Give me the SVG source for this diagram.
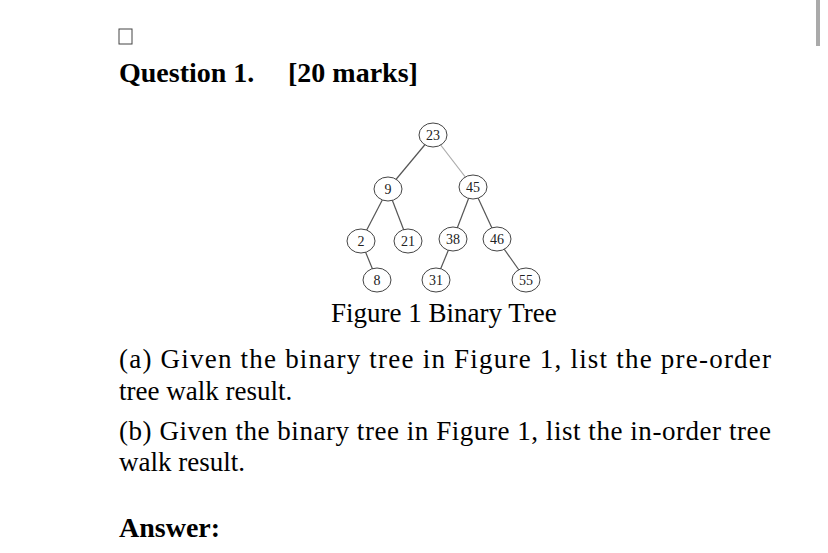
<svg xmlns="http://www.w3.org/2000/svg" width="828" height="553" viewBox="0 0 828 553">
<style>
.n ellipse{fill:#fff;stroke:#444;stroke-width:1}
.n text{font-family:"Liberation Serif",serif;font-size:14px;text-anchor:middle;fill:#222}
#edges line{stroke:#555;stroke-width:1.2}
.t{font-family:"Liberation Serif",serif;font-size:27px;fill:#000}
.b{font-family:"Liberation Serif",serif;font-size:28px;font-weight:bold;fill:#000}
</style>
<rect width="828" height="553" fill="#fff"/>
<rect x="816" y="0" width="4" height="46" fill="#aaa"/>
<rect x="119" y="29" width="13" height="15" fill="none" stroke="#444" stroke-width="1"/>
<text class="b" x="119" y="82">Question 1.</text>
<text class="b" x="288" y="82">[20 marks]</text>
<g id="edges">
<line x1="433" y1="135" x2="388" y2="189"/>
<line x1="433" y1="135" x2="473" y2="187" stroke-opacity="0.5"/>
<line x1="388" y1="189" x2="361" y2="241"/>
<line x1="388" y1="189" x2="408" y2="241"/>
<line x1="473" y1="187" x2="453" y2="239"/>
<line x1="473" y1="187" x2="497" y2="239"/>
<line x1="361" y1="241" x2="377" y2="280"/>
<line x1="453" y1="239" x2="436" y2="280"/>
<line x1="497" y1="239" x2="526" y2="280"/>
</g>
<g id="n23" class="n"><ellipse cx="433" cy="135" rx="14" ry="12"/><text x="433" y="140">23</text></g>
<g id="n9" class="n"><ellipse cx="388" cy="189" rx="14" ry="12"/><text x="388" y="194">9</text></g>
<g id="n45" class="n"><ellipse cx="473" cy="187" rx="14" ry="12"/><text x="473" y="192">45</text></g>
<g id="n2" class="n"><ellipse cx="361" cy="241" rx="14" ry="12"/><text x="361" y="246">2</text></g>
<g id="n21" class="n"><ellipse cx="408" cy="241" rx="14" ry="12"/><text x="408" y="246">21</text></g>
<g id="n38" class="n"><ellipse cx="453" cy="239" rx="14" ry="12"/><text x="453" y="244">38</text></g>
<g id="n46" class="n"><ellipse cx="497" cy="239" rx="14" ry="12"/><text x="497" y="244">46</text></g>
<g id="n8" class="n"><ellipse cx="377" cy="280" rx="14" ry="12"/><text x="377" y="285">8</text></g>
<g id="n31" class="n"><ellipse cx="436" cy="280" rx="14" ry="12"/><text x="436" y="285">31</text></g>
<g id="n55" class="n"><ellipse cx="526" cy="280" rx="14" ry="12"/><text x="526" y="285">55</text></g>
<text class="t" x="331" y="322">Figure 1 Binary Tree</text>
<text class="t" x="119" y="368" textLength="652">(a) Given the binary tree in Figure 1, list the pre-order</text>
<text class="t" x="119" y="400">tree walk result.</text>
<text class="t" x="119" y="440" textLength="652">(b) Given the binary tree in Figure 1, list the in-order tree</text>
<text class="t" x="119" y="471">walk result.</text>
<text class="b" x="119" y="537">Answer:</text>
</svg>
